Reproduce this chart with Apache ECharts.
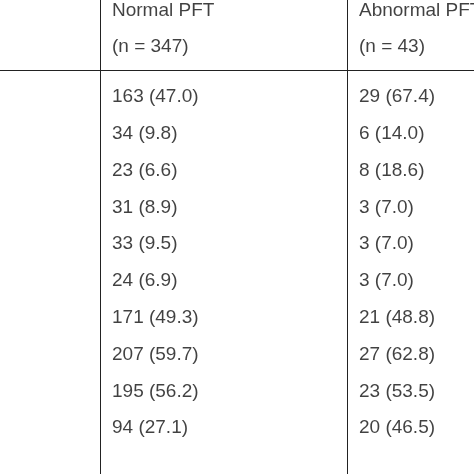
<!DOCTYPE html>
<html><head><meta charset="utf-8">
<script src="https://cdn.jsdelivr.net/npm/echarts@6/dist/echarts.min.js"></script>
<style>html,body{margin:0;padding:0;background:#fff}#c{width:474px;height:474px}</style>
</head><body><div id="c"></div>
<script>
var headers = [["Normal PFT", "Abnormal PFT"], ["(n = 347)", "(n = 43)"]];
var normal = ["163 (47.0)","34 (9.8)","23 (6.6)","31 (8.9)","33 (9.5)","24 (6.9)","171 (49.3)","207 (59.7)","195 (56.2)","94 (27.1)"];
var abnormal = ["29 (67.4)","6 (14.0)","8 (18.6)","3 (7.0)","3 (7.0)","3 (7.0)","21 (48.8)","27 (62.8)","23 (53.5)","20 (46.5)"];

var colX = [112, 359];
var headerY = [11, 47];
var rowStart = 97, rowStep = 36.8;
var pts = [];
headers.forEach(function(h, i){ h.forEach(function(t, j){ pts.push([colX[j], headerY[i], t]); }); });
normal.forEach(function(t, i){ pts.push([colX[0], rowStart + i*rowStep, t]); });
abnormal.forEach(function(t, i){ pts.push([colX[1], rowStart + i*rowStep, t]); });

var chart = echarts.init(document.getElementById('c'));
chart.setOption({
  animation: false,
  grid: {left: 0, right: 0, top: 0, bottom: 0},
  xAxis: {type: 'value', min: 0, max: 474, show: false},
  yAxis: {type: 'value', min: 0, max: 474, inverse: true, show: false},
  series: [{
    type: 'scatter', symbolSize: 0, data: pts,
    label: {show: true, position: 'right', distance: 0, formatter: function(p){ return p.data[2]; },
      color: '#111', fontSize: 19, fontFamily: 'Liberation Sans, Arial'},
    markLine: {silent: true, symbol: 'none', label: {show: false},
      lineStyle: {color: '#222', width: 1, type: 'solid'},
      data: [{xAxis: 100}, {xAxis: 347}, {yAxis: 70}]}
  }]
});
</script></body></html>
